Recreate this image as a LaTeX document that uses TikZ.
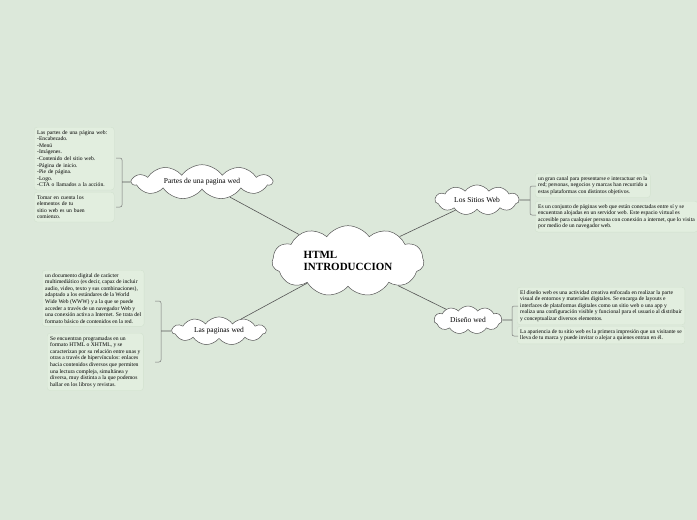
\documentclass[tikz,border=0pt]{standalone}
\usepackage{fontspec}
\setmainfont{Liberation Serif}
\usetikzlibrary{shapes.symbols}
\definecolor{bg}{HTML}{DCE8DA}
\definecolor{boxf}{HTML}{E2EEDF}
\definecolor{boxd}{HTML}{D2E2CF}
\definecolor{ln}{HTML}{555555}
\tikzset{
 cl/.style={cloud, cloud puffs=11, cloud puff arc=110, aspect=4, draw=ln, fill=white, line width=0.5pt, inner sep=0pt, font=\fontsize{7.5}{8}\selectfont},
 tb/.style={draw=boxd, fill=boxf, rounded corners=3pt, anchor=north west, align=left, inner sep=3pt, font=\fontsize{5.6}{6.6}\selectfont},
 con/.style={draw=ln, line width=0.6pt},
 br/.style={draw=ln!80, line width=0.5pt, rounded corners=2pt},
}
\begin{document}
\begin{tikzpicture}[x=1pt,y=-1pt]
\fill[bg] (0,0) rectangle (697,520);
\useasboundingbox (0,0) rectangle (697,520);
\begin{scope}
\clip (0,0) rectangle (697,520);
\node[cl, minimum width=152, minimum height=66, aspect=2.3, font=\bfseries\fontsize{11}{12}\selectfont, align=left] (c) at (348,261) {HTML\\INTRODUCCION};
\node[cl, minimum width=140, minimum height=26, aspect=5.5] (p) at (202,182) {Partes de una pagina wed};
\node[cl, minimum width=84, minimum height=28, aspect=3] (s) at (477,200) {Los Sitios Web};
\node[cl, minimum width=94, minimum height=25, aspect=3.8] (w) at (219,331) {Las paginas wed};
\node[cl, minimum width=68, minimum height=28, aspect=2.4] (d) at (468,320) {Diseño wed};
\draw[con] (c) -- (p); \draw[con] (c) -- (s); \draw[con] (c) -- (w); \draw[con] (c) -- (d);

% top-left group
\node[tb, text width=74] (p1) at (34,127) {Las partes de una página web:\\-Encabezado.\\-Menú\\-Imágenes.\\-Contenido del sitio web.\\-Página de inicio.\\-Pie de página.\\-Logo.\\-CTA o llamados a la acción.};
\node[tb, text width=74] (p2) at (34,192) {Tomar en cuenta los\\elementos de tu\\sitio web es un buen\\comienzo.};
\draw[br] (116,158) -- (122,158) -- (122,207) -- (116,207);
\draw[con] (122,182) -- (p.west);

% bottom-left group
\node[tb] (w1) at (42,270) {un documento digital de carácter\\multimediático (es decir, capaz de incluir\\audio, video, texto y sus combinaciones),\\adaptado a los estándares de la World\\Wide Web (WWW) y a la que se puede\\acceder a través de un navegador Web y\\una conexión activa a Internet. Se trata del\\formato básico de contenidos en la red.};
\node[tb] (w2) at (47,333) {Se encuentran programadas en un\\formato HTML o XHTML, y se\\caracterizan por su relación entre unas y\\otras a través de hipervínculos: enlaces\\hacia contenidos diversos que permiten\\una lectura compleja, simultánea y\\diversa, muy distinta a la que podemos\\hallar en los libros y revistas.};
\draw[br] (155,301) -- (161,301) -- (161,362) -- (155,362);
\draw[con] (161,331) -- (w.west);

% top-right group
\node[tb] (s1) at (535,173) {un gran canal para presentarse e interactuar en la\\red; personas, negocios y marcas han recurrido a\\estas plataformas con distintos objetivos.};
\node[tb] (s2) at (535,201) {Es un conjunto de páginas web que están conectadas entre sí y se\\encuentran alojadas en un servidor web. Este espacio virtual es\\accesible para cualquier persona con conexión a internet, que lo visita\\por medio de un navegador web.};
\draw[br] (536,186) -- (530,186) -- (530,215) -- (536,215);
\draw[con] (s.east) -- (530,200);

% bottom-right group
\node[tb] (d1) at (517,287) {El diseño web es una actividad creativa enfocada en realizar la parte\\visual de entornos y materiales digitales. Se encarga de layouts e\\interfaces de plataformas digitales como un sitio web o una app y\\realiza una configuración visible y funcional para el usuario al distribuir\\y conceptualizar diversos elementos.};
\node[tb] (d2) at (517,326) {La apariencia de tu sitio web es la primera impresión que un visitante se\\lleva de tu marca y puede invitar o alejar a quienes entran en él.};
\draw[br] (518,306) -- (512,306) -- (512,336) -- (518,336);
\draw[con] (d.east) -- (512,320);
\end{scope}
\end{tikzpicture}
\end{document}
